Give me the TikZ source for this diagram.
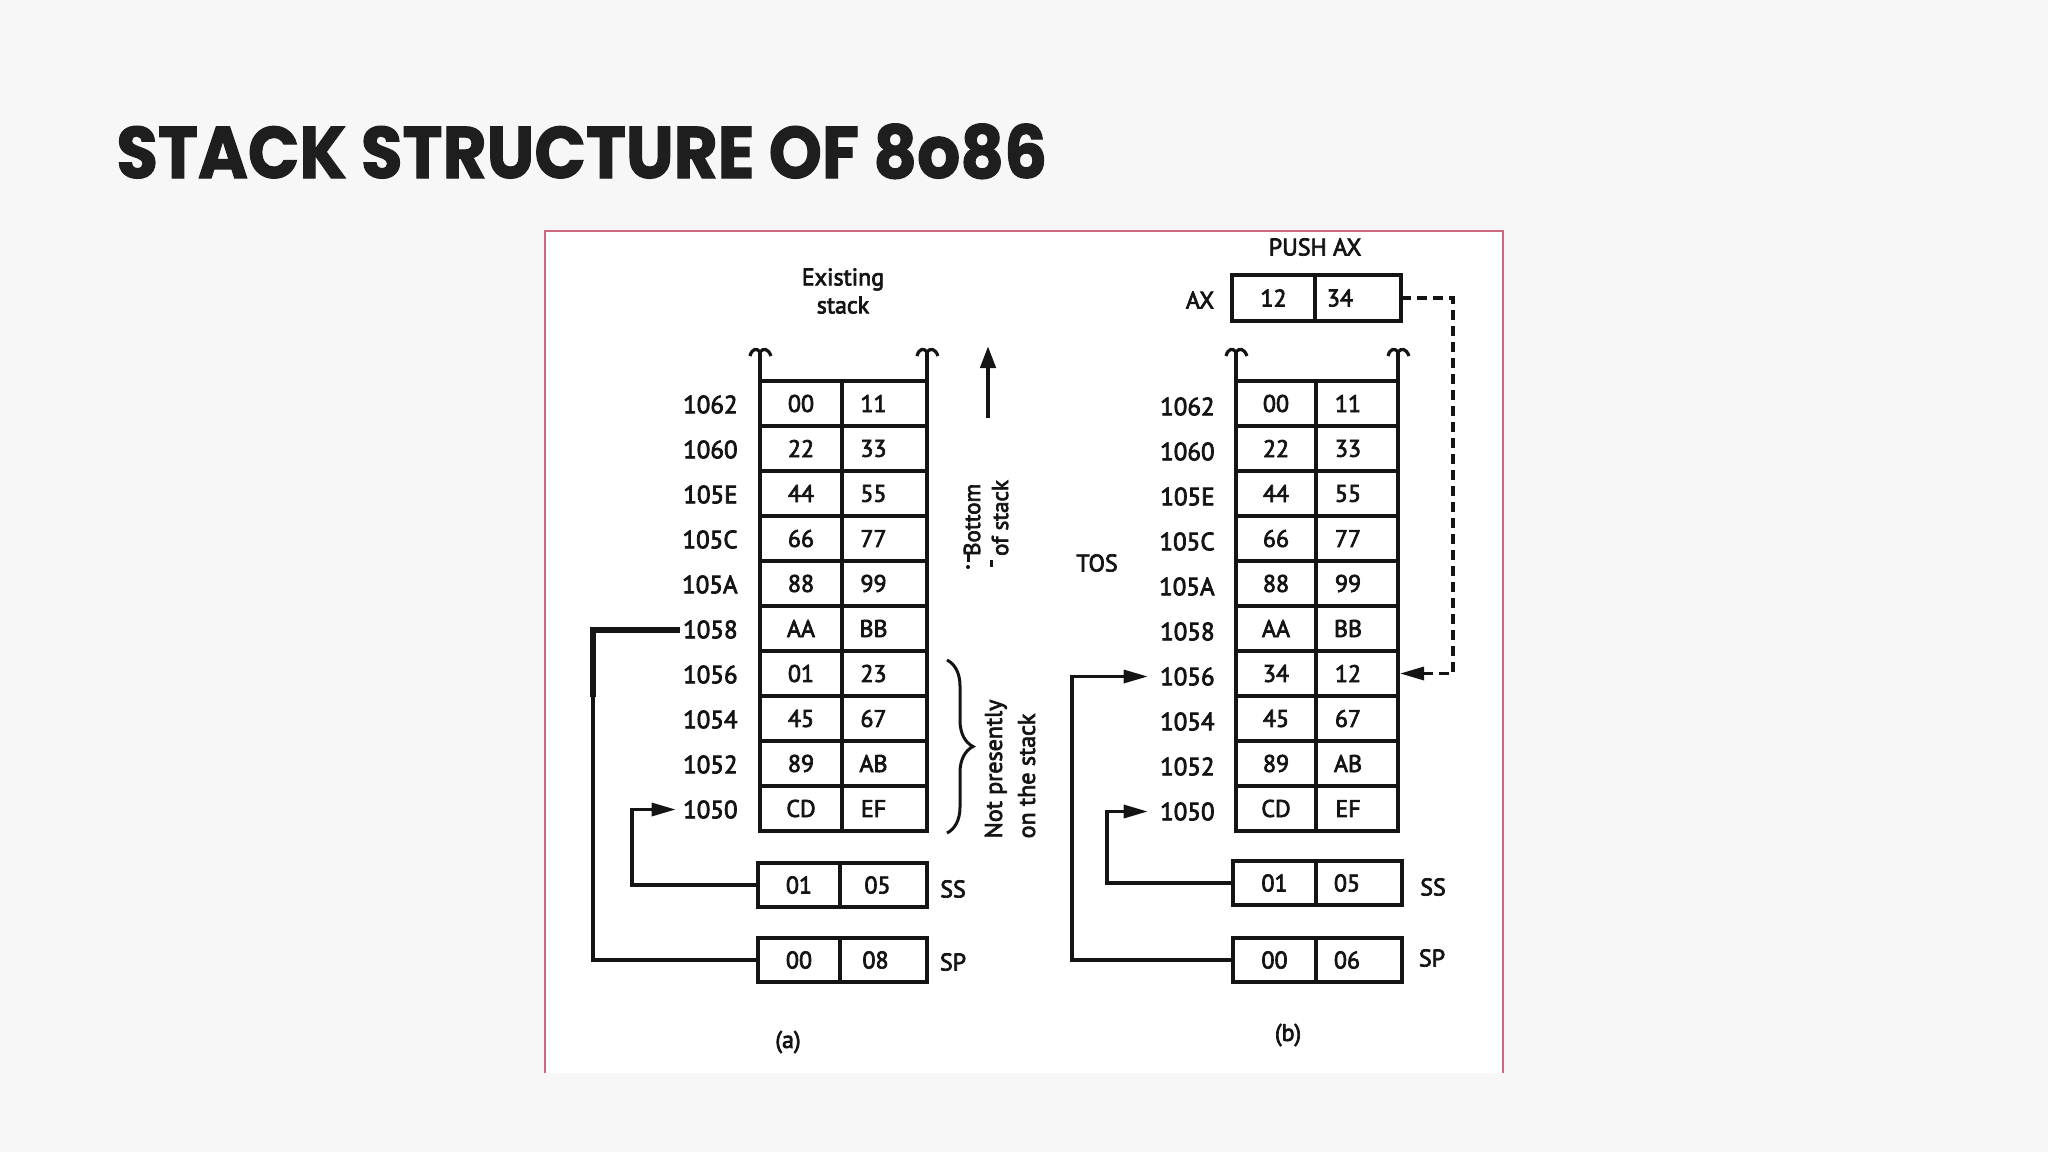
\documentclass[tikz,border=0pt]{standalone}
\usepackage{fontspec}
\setmainfont{PT Sans}[FakeBold=3]
\newfontfamily\titlefont{Poppins}[BoldFeatures={FakeBold=1.5}]
\usetikzlibrary{arrows.meta,decorations.pathreplacing}
\definecolor{bgc}{HTML}{F7F7F7}
\definecolor{framec}{HTML}{CC6A82}
\definecolor{inkc}{HTML}{141414}
\definecolor{titlec}{HTML}{1E1E1E}
\newcommand\valfont{\fontsize{12}{14}\selectfont}
\newcommand\addrfont{\fontsize{12.5}{14}\selectfont}
\newcommand\lblfont{\fontsize{12}{14}\selectfont}
\begin{document}
\begin{tikzpicture}[x=0.5pt,y=-0.5pt,
  cellbox/.style={draw=inkc, text=inkc, line width=1.7pt, inner sep=0pt, outer sep=0pt, minimum height=22.5pt, font=\valfont},
  regbox/.style={cellbox, minimum height=22pt},
  tshift/.style={execute at end node={\kern#1}},
  addr/.style={text=inkc, inner sep=0pt, font=\addrfont},
  lbl/.style={text=inkc, inner sep=0pt, font=\lblfont},
  conn/.style={draw=inkc, line width=1.6pt},
  tip/.style={-{Triangle[length=12pt,width=6.5pt]}},
  wall/.style={draw=inkc, line width=1.9pt},
  curl/.pic={\draw[draw=inkc, line width=1.6pt] (-10,5) .. controls (-8,-3) and (-3,-3) .. (0,1) .. controls (3,-3) and (8,-3) .. (11,5);}
]
\useasboundingbox (0,0) rectangle (2048,1152);
\fill[bgc] (0,0) rectangle (2048,1152);
\fill[white] (545,231) rectangle (1503,1073);
\draw[framec, line width=1.3pt] (545,1073) -- (545,231) -- (1503,231) -- (1503,1073);

% title
\node[anchor=base west, inner sep=0pt, text=titlec, font=\titlefont\bfseries\fontsize{36.5}{40}\selectfont] (title) at (116,178) {\scalebox{0.927}[1]{STACK STRUCTURE OF 8o86}};

% ---------------- (a) ----------------
\node[lbl, align=center, font=\fontsize{12}{14}\selectfont] (aexist) at (843,291) {Existing\\stack};
\foreach \k/\ad/\l/\r in {0/1062/00/11,1/1060/22/33,2/105E/44/55,3/105C/66/77,4/105A/88/99,5/1058/AA/BB,6/1056/01/23,7/1054/45/67,8/1052/89/AB,9/1050/CD/EF}{
  \node[cellbox, minimum width=41pt] (aL\k) at (801,{403.5+45*\k}) {\l};
  \node[cellbox, minimum width=42.5pt, tshift=11pt] (aR\k) at (884.5,{403.5+45*\k}) {\r};
  \node[addr, anchor=east] (aA\k) at (738,{404.5+45*\k}) {\ad};
}
\draw[wall] (aL0.north west) -- ++(0,-30);
\draw[wall] (aR0.north east) -- ++(0,-30);
\pic at (760,351) {curl};
\pic at (927,351) {curl};

\coordinate (upA) at (988,418);
\coordinate (upB) at (988,346);
\draw[draw=inkc, line width=2.2pt, -{Triangle[length=11pt,width=7.5pt]}] (upA) -- (upB);

\node[text=inkc, inner sep=0pt, rotate=90, align=left, font=\fontsize{11.5}{14}\selectfont] (bos) at (986,518) {Bottom\\of stack};
\draw[draw=inkc, line width=1.5pt] (968,554) -- (968,562);
\fill[inkc] (968,567) circle (2);
\draw[draw=inkc, line width=1.5pt] (991,560) -- (991,567);

\draw[draw=inkc, line width=1.5pt, decorate, decoration={brace, amplitude=13pt}] (947,660) -- (947,833);
\node[text=inkc, inner sep=0pt, rotate=90, align=left, font=\fontsize{12}{16.5}\selectfont] (nps) at (1010,769) {Not presently\\on the stack};

\node[regbox, minimum width=41pt] (aS1) at (799,885) {01};
\node[regbox, minimum width=43.5pt, tshift=6pt] (aS2) at (883.5,885) {05};
\node[regbox, minimum width=41pt] (aP1) at (799,960) {00};
\node[regbox, minimum width=43.5pt, tshift=8pt] (aP2) at (883.5,960) {08};
\node[lbl] (aSSl) at (953,889) {SS};
\node[lbl] (aSPl) at (953,962) {SP};

\coordinate (aXsp) at (593,0);
\coordinate (aXss) at (632,0);
\draw[conn, shorten >=1.5pt] (aP1.west) -| (aXsp |- aA5.west) -- (aA5.west);
\draw[draw=inkc, line width=3pt, shorten <=1.5pt] (aA5.west) -- (aXsp |- aA5.west) -- ++(0,67);
\draw[conn, tip, shorten >=3.5pt] (aS1.west) -| (aXss |- aA9.west) -- (aA9.west);

\node[lbl] (acap) at (788,1042) {(a)};

% ---------------- (b) ----------------
\node[lbl] (push) at (1315,247) {PUSH AX};
\node[regbox, minimum width=41.5pt, minimum height=23pt] (bX1) at (1273.5,298) {12};
\node[regbox, minimum width=43pt, minimum height=23pt, tshift=18pt] (bX2) at (1358,298) {34};
\node[lbl] (axl) at (1200,300) {AX};

\foreach \k/\ad/\l/\r in {0/1062/00/11,1/1060/22/33,2/105E/44/55,3/105C/66/77,4/105A/88/99,5/1058/AA/BB,6/1056/34/12,7/1054/45/67,8/1052/89/AB,9/1050/CD/EF}{
  \node[cellbox, minimum width=40pt] (bL\k) at (1276,{403.5+45*\k}) {\l};
  \node[cellbox, minimum width=41pt, tshift=9pt] (bR\k) at (1357,{403.5+45*\k}) {\r};
  \node[addr, anchor=east] (bA\k) at (1215,{406.5+45*\k}) {\ad};
}
\draw[wall] (bL0.north west) -- ++(0,-30);
\draw[wall] (bR0.north east) -- ++(0,-30);
\pic at (1236,351) {curl};
\pic at (1398,351) {curl};

\node[lbl] (tos) at (1097,563) {TOS};

\node[regbox, minimum width=41.5pt] (bS1) at (1274.5,883) {01};
\node[regbox, minimum width=43pt, tshift=12pt] (bS2) at (1359,883) {05};
\node[regbox, minimum width=41.5pt] (bP1) at (1274.5,960) {00};
\node[regbox, minimum width=43pt, tshift=12pt] (bP2) at (1359,960) {06};
\node[lbl] (bSSl) at (1433,887) {SS};
\node[lbl] (bSPl) at (1432,958) {SP};

\coordinate (bXsp) at (1072,0);
\coordinate (bXss) at (1107,0);
\coordinate (bXd) at (1453,0);
\draw[conn, tip, shorten >=6pt] (bP1.west) -| (bXsp |- bA6.west) -- (bA6.west);
\draw[conn, tip, shorten >=6pt] (bS1.west) -| (bXss |- bA9.west) -- (bA9.west);
\draw[conn, tip, dash pattern=on 5pt off 3pt, shorten >=1pt] (bX2.east) -| (bXd |- bR6.east) -- (bR6.east);

\node[lbl] (bcap) at (1288,1035) {(b)};
\end{tikzpicture}
\end{document}
